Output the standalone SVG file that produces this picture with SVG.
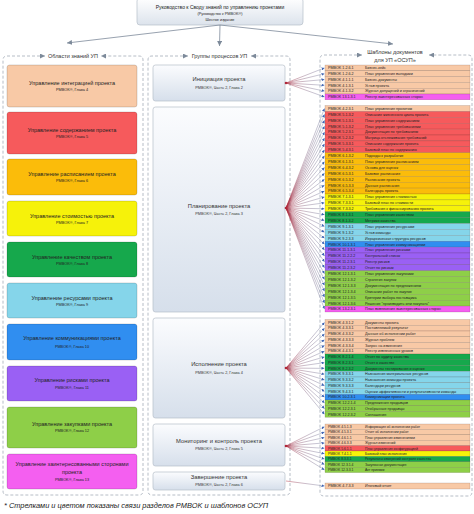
<svg xmlns="http://www.w3.org/2000/svg" width="474" height="514" viewBox="0 0 474 514">
<defs>
<linearGradient id="gTop" x1="0" y1="0" x2="0" y2="1"><stop offset="0" stop-color="#ffffff"/><stop offset="1" stop-color="#dce3ec"/></linearGradient>
<linearGradient id="gMid" x1="0" y1="0" x2="0" y2="1"><stop offset="0" stop-color="#fbfcfe"/><stop offset="1" stop-color="#d6dfeb"/></linearGradient>
<linearGradient id="gLn" gradientUnits="userSpaceOnUse" x1="286" y1="0" x2="325" y2="0"><stop offset="0" stop-color="#b0283a"/><stop offset="0.5" stop-color="#8a6a86"/><stop offset="1" stop-color="#7c8cad"/></linearGradient>
<marker id="ah" markerUnits="userSpaceOnUse" markerWidth="5" markerHeight="5" viewBox="0 0 5 5" refX="5" refY="2.5" orient="auto-start-reverse"><path d="M0,0L5,2.5L0,5z" fill="#7d8a9a"/></marker>
<marker id="at" markerUnits="userSpaceOnUse" markerWidth="3" markerHeight="3" viewBox="0 0 3 3" refX="3" refY="1.5" orient="auto"><path d="M0,0L3,1.5L0,3z" fill="#3d64b4"/></marker>
</defs>
<style>
text{font-family:"Liberation Sans",Arial,sans-serif;fill:#222}
.hd{font-size:5.5px;text-anchor:middle;fill:#333}
.kt{font-size:5.5px;text-anchor:middle}
.ks{font-size:3.8px;text-anchor:middle}
.mt{font-size:5.8px;text-anchor:middle;fill:#333}
.ms{font-size:3.8px;text-anchor:middle;fill:#333}
.kb rect{stroke:rgba(0,0,0,0.25);stroke-width:0.6}
.mb rect{fill:url(#gMid);stroke:#b6bec9;stroke-width:0.7}
.cont{fill:none;stroke:#a3acb8;stroke-width:0.8;stroke-dasharray:3 2}
.rw rect{stroke:rgba(60,40,30,0.35);stroke-width:0.4}
.rw text{font-size:3.7px}
.g4 text{font-size:3.4px}
.c1{fill:#f8c9a6}.c2{fill:#f65a5c}.c3{fill:#fbbc0a}.c4{fill:#f6f20a}.c5{fill:#16a84c}
.c6{fill:#85d5ea}.c7{fill:#308ef0}.c8{fill:#9a60f4}.c9{fill:#8ecf48}.c10{fill:#f45ff0}
.cn line{stroke:url(#gLn);stroke-width:0.45;marker-end:url(#at)}
.top line{stroke:#7d8a9a;stroke-width:0.8;marker-end:url(#ah)}
</style>

<!-- top box -->
<g id="guide">
<rect x="137" y="-2" width="166" height="27" rx="3" fill="url(#gTop)" stroke="#b6bec9" stroke-width="0.7"/>
<text x="220" y="8.5" style="font-size:5px;text-anchor:middle">Руководство к Своду знаний по управлению проектами</text>
<text x="220" y="15.4" class="ks">(Руководство к PMBOK®)</text>
<text x="220" y="20.8" class="ks">Шестое издание</text>
</g>

<!-- containers -->
<g id="col-areas">
<path class="cont" d="M45,56H7Q3,56 3,60V491Q3,495 7,495H139Q143,495 143,491V60Q143,56 139,56H101" marker-start="url(#ah)" marker-end="url(#ah)"/>
<text class="hd" x="73" y="58.2">Области знаний УП</text>
</g>
<g id="col-groups">
<path class="cont" d="M188,56H152Q148,56 148,60V491Q148,495 152,495H286Q290,495 290,491V60Q290,56 286,56H251" marker-start="url(#ah)" marker-end="url(#ah)"/>
<text class="hd" x="219.5" y="58.2">Группы процессов УП</text>
</g>
<g id="col-templates">
<path class="cont" d="M362,55H324Q320,55 320,59V492Q320,496 324,496H468Q472,496 472,492V59Q472,55 468,55H429" marker-start="url(#ah)" marker-end="url(#ah)"/>
<text class="hd" x="395" y="53.8">Шаблоны документов</text>
<text class="hd" x="395" y="61.5">для УП «ОСУП»</text>
</g>

<!-- knowledge areas -->
<g class="kb">
<g id="ka4"><rect class="c1" x="7" y="65" width="130" height="42" rx="2.5"/><text class="kt" x="72" y="85">Управление интеграцией проекта</text><text class="ks" x="72" y="90.8">PMBOK®, Глава 4</text></g>
<g id="ka5"><rect class="c2" x="7" y="112" width="130" height="42" rx="2.5"/><text class="kt" x="72" y="131.5">Управление содержанием проекта</text><text class="ks" x="72" y="138.4">PMBOK®, Глава 5</text></g>
<g id="ka6"><rect class="c3" x="7" y="159" width="130" height="36" rx="2.5"/><text class="kt" x="72" y="176">Управление расписанием проекта</text><text class="ks" x="72" y="182.4">PMBOK®, Глава 6</text></g>
<g id="ka7"><rect class="c4" x="7" y="201" width="130" height="35" rx="2.5"/><text class="kt" x="72" y="218">Управление стоимостью проекта</text><text class="ks" x="72" y="224.4">PMBOK®, Глава 7</text></g>
<g id="ka8"><rect class="c5" x="7" y="242" width="130" height="35" rx="2.5"/><text class="kt" x="72" y="259">Управление качеством проекта</text><text class="ks" x="72" y="264.9">PMBOK®, Глава 8</text></g>
<g id="ka9"><rect class="c6" x="7" y="283" width="130" height="35" rx="2.5"/><text class="kt" x="72" y="300">Управление ресурсами проекта</text><text class="ks" x="72" y="306.4">PMBOK®, Глава 9</text></g>
<g id="ka10"><rect class="c7" x="7" y="324" width="130" height="36" rx="2.5"/><text class="kt" x="72" y="340">Управление коммуникациями проекта</text><text class="ks" x="72" y="347.9">PMBOK®, Глава 10</text></g>
<g id="ka11"><rect class="c8" x="7" y="366" width="130" height="35" rx="2.5"/><text class="kt" x="72" y="382">Управление рисками проекта</text><text class="ks" x="72" y="389.4">PMBOK®, Глава 11</text></g>
<g id="ka12"><rect class="c9" x="7" y="407" width="130" height="41" rx="2.5"/><text class="kt" x="72" y="426">Управление закупками проекта</text><text class="ks" x="72" y="432.4">PMBOK®, Глава 12</text></g>
<g id="ka13"><rect class="c10" x="7" y="454" width="130" height="35" rx="2.5"/><text class="kt" x="72" y="466">Управление заинтересованными сторонами</text><text class="kt" x="72" y="474">проекта</text><text class="ks" x="72" y="481.4">PMBOK®, Глава 13</text></g>
</g>

<!-- process groups -->
<g class="mb">
<g id="pg-init"><rect x="153" y="65" width="132" height="36" rx="2.5"/><text class="mt" x="219" y="81">Инициация проекта</text><text class="ms" x="219" y="89.4">PMBOK®, Часть 2, Глава 2</text></g>
<g id="pg-plan"><rect x="153" y="107" width="132" height="205" rx="2.5"/><text class="mt" x="219" y="208">Планирование проекта</text><text class="ms" x="219" y="215.4">PMBOK®, Часть 2, Глава 3</text></g>
<g id="pg-exec"><rect x="153" y="318" width="132" height="100" rx="2.5"/><text class="mt" x="219" y="366">Исполнение проекта</text><text class="ms" x="219" y="374.4">PMBOK®, Часть 2, Глава 4</text></g>
<g id="pg-mon"><rect x="153" y="424" width="132" height="42" rx="2.5"/><text class="mt" x="219" y="443">Мониторинг и контроль проекта</text><text class="ms" x="219" y="450.4">PMBOK®, Часть 2, Глава 5</text></g>
<g id="pg-close"><rect x="153" y="472" width="132" height="18" rx="2.5"/><text class="mt" x="219" y="478.5">Завершение проекта</text><text class="ms" x="219" y="485.6">PMBOK®, Часть 2, Глава 6</text></g>
</g>

<!-- templates -->
<g class="rw">
<g id="a1"><rect class="c1" x="325" y="65" width="145" height="5.8"/><text x="328" y="69.25">PMBOK 1.2.6.1</text><text x="365" y="69.25">Бизнес-кейс</text></g>
<g id="a2"><rect class="c1" x="325" y="70.8" width="145" height="5.8"/><text x="328" y="75.05">PMBOK 1.2.6.2</text><text x="365" y="75.05">План управления выгодами</text></g>
<g id="a3"><rect class="c1" x="325" y="76.6" width="145" height="5.8"/><text x="328" y="80.85">PMBOK 4.1.1.1</text><text x="365" y="80.85">Бизнес-документы</text></g>
<g id="a4"><rect class="c1" x="325" y="82.4" width="145" height="5.8"/><text x="328" y="86.65">PMBOK 4.1.3.1</text><text x="365" y="86.65">Устав проекта</text></g>
<g id="a5"><rect class="c1" x="325" y="88.2" width="145" height="5.8"/><text x="328" y="92.45">PMBOK 4.1.3.2</text><text x="365" y="92.45">Журнал допущений и ограничений</text></g>
<g id="a6"><rect class="c10" x="325" y="94" width="145" height="5.8"/><text x="328" y="98.25">PMBOK 13.1.3.1</text><text x="365" y="98.25">Реестр заинтересованных сторон</text></g>

<g id="b1"><rect class="c1" x="325" y="105.5" width="145" height="5.9"/><text x="328" y="109.8">PMBOK 4.2.3.1</text><text x="365" y="109.8">План управления проектом</text></g>
<g id="b2"><rect class="c2" x="325" y="111.4" width="145" height="5.9"/><text x="328" y="115.7">PMBOK 5.1.3.2</text><text x="365" y="115.7">Описание жизненного цикла проекта</text></g>
<g id="b3"><rect class="c2" x="325" y="117.3" width="145" height="5.9"/><text x="328" y="121.6">PMBOK 5.1.3.1</text><text x="365" y="121.6">План управления содержанием</text></g>
<g id="b4"><rect class="c2" x="325" y="123.2" width="145" height="5.9"/><text x="328" y="127.5">PMBOK 5.1.3.2</text><text x="365" y="127.5">План управления требованиями</text></g>
<g id="b5"><rect class="c2" x="325" y="129.1" width="145" height="5.9"/><text x="328" y="133.4">PMBOK 5.2.3.1</text><text x="365" y="133.4">Документация по требованиям</text></g>
<g id="b6"><rect class="c2" x="325" y="135" width="145" height="5.9"/><text x="328" y="139.3">PMBOK 5.2.3.2</text><text x="365" y="139.3">Матрица отслеживания требований</text></g>
<g id="b7"><rect class="c2" x="325" y="140.9" width="145" height="5.9"/><text x="328" y="145.2">PMBOK 5.3.3.1</text><text x="365" y="145.2">Описание содержания проекта</text></g>
<g id="b8"><rect class="c2" x="325" y="146.8" width="145" height="5.9"/><text x="328" y="151.1">PMBOK 5.4.3.1</text><text x="365" y="151.1">Базовый план по содержанию</text></g>
<g id="b9"><rect class="c3" x="325" y="152.7" width="145" height="5.9"/><text x="328" y="157">PMBOK 6.1.3.2</text><text x="365" y="157">Подходы к разработке</text></g>
<g id="b10"><rect class="c3" x="325" y="158.6" width="145" height="5.9"/><text x="328" y="162.9">PMBOK 6.1.3.1</text><text x="365" y="162.9">План управления расписанием</text></g>
<g id="b11"><rect class="c3" x="325" y="164.5" width="145" height="5.9"/><text x="328" y="168.8">PMBOK 6.4.3.2</text><text x="365" y="168.8">Основа для оценок</text></g>
<g id="b12"><rect class="c3" x="325" y="170.4" width="145" height="5.9"/><text x="328" y="174.7">PMBOK 6.5.3.1</text><text x="365" y="174.7">Базовое расписание</text></g>
<g id="b13"><rect class="c3" x="325" y="176.3" width="145" height="5.9"/><text x="328" y="180.6">PMBOK 6.5.3.2</text><text x="365" y="180.6">Расписание проекта</text></g>
<g id="b14"><rect class="c3" x="325" y="182.2" width="145" height="5.9"/><text x="328" y="186.5">PMBOK 6.5.3.3</text><text x="365" y="186.5">Данные расписания</text></g>
<g id="b15"><rect class="c3" x="325" y="188.1" width="145" height="5.9"/><text x="328" y="192.4">PMBOK 6.5.3.4</text><text x="365" y="192.4">Календарь проекта</text></g>
<g id="b16"><rect class="c4" x="325" y="194" width="145" height="5.9"/><text x="328" y="198.3">PMBOK 7.1.3.1</text><text x="365" y="198.3">План управления стоимостью</text></g>
<g id="b17"><rect class="c4" x="325" y="199.9" width="145" height="5.9"/><text x="328" y="204.2">PMBOK 7.3.3.1</text><text x="365" y="204.2">Базовый план по стоимости</text></g>
<g id="b18"><rect class="c4" x="325" y="205.8" width="145" height="5.9"/><text x="328" y="210.1">PMBOK 7.3.3.2</text><text x="365" y="210.1">Требования к финансированию проекта</text></g>
<g id="b19"><rect class="c5" x="325" y="211.7" width="145" height="5.9"/><text x="328" y="216">PMBOK 8.1.3.1</text><text x="365" y="216">План управления качеством</text></g>
<g id="b20"><rect class="c5" x="325" y="217.6" width="145" height="5.9"/><text x="328" y="221.9">PMBOK 8.1.3.2</text><text x="365" y="221.9">Метрики качества</text></g>
<g id="b21"><rect class="c6" x="325" y="223.5" width="145" height="5.9"/><text x="328" y="227.8">PMBOK 9.1.3.1</text><text x="365" y="227.8">План управления ресурсами</text></g>
<g id="b22"><rect class="c6" x="325" y="229.4" width="145" height="5.9"/><text x="328" y="233.7">PMBOK 9.1.3.2</text><text x="365" y="233.7">Устав команды</text></g>
<g id="b23"><rect class="c6" x="325" y="235.3" width="145" height="5.9"/><text x="328" y="239.6">PMBOK 9.2.3.3</text><text x="365" y="239.6">Иерархическая структура ресурсов</text></g>
<g id="b24"><rect class="c7" x="325" y="241.2" width="145" height="5.9"/><text x="328" y="245.5">PMBOK 10.1.3.1</text><text x="365" y="245.5">План управления коммуникациями</text></g>
<g id="b25"><rect class="c8" x="325" y="247.1" width="145" height="5.9"/><text x="328" y="251.4">PMBOK 11.1.3.1</text><text x="365" y="251.4">План управления рисками</text></g>
<g id="b26"><rect class="c8" x="325" y="253" width="145" height="5.9"/><text x="328" y="257.3">PMBOK 11.2.2.2</text><text x="365" y="257.3">Контрольный список</text></g>
<g id="b27"><rect class="c8" x="325" y="258.9" width="145" height="5.9"/><text x="328" y="263.2">PMBOK 11.2.3.1</text><text x="365" y="263.2">Реестр рисков</text></g>
<g id="b28"><rect class="c8" x="325" y="264.8" width="145" height="5.9"/><text x="328" y="269.1">PMBOK 11.2.3.2</text><text x="365" y="269.1">Отчет по рискам</text></g>
<g id="b29"><rect class="c9" x="325" y="270.7" width="145" height="5.9"/><text x="328" y="275">PMBOK 12.1.3.1</text><text x="365" y="275">План управления закупками</text></g>
<g id="b30"><rect class="c9" x="325" y="276.6" width="145" height="5.9"/><text x="328" y="280.9">PMBOK 12.1.3.2</text><text x="365" y="280.9">Стратегия закупок</text></g>
<g id="b31"><rect class="c9" x="325" y="282.5" width="145" height="5.9"/><text x="328" y="286.8">PMBOK 12.1.3.3</text><text x="365" y="286.8">Документация по предложениям</text></g>
<g id="b32"><rect class="c9" x="325" y="288.4" width="145" height="5.9"/><text x="328" y="292.7">PMBOK 12.1.3.4</text><text x="365" y="292.7">Описание работ по закупке</text></g>
<g id="b33"><rect class="c9" x="325" y="294.3" width="145" height="5.9"/><text x="328" y="298.6">PMBOK 12.1.3.5</text><text x="365" y="298.6">Критерии выбора поставщика</text></g>
<g id="b34"><rect class="c9" x="325" y="300.2" width="145" height="5.9"/><text x="328" y="304.5">PMBOK 12.1.3.6</text><text x="365" y="304.5">Решение "производить или покупать"</text></g>
<g id="b35"><rect class="c10" x="325" y="306.1" width="145" height="5.9"/><text x="328" y="310.4">PMBOK 13.2.3.1</text><text x="365" y="310.4">План вовлечения заинтересованных сторон</text></g>

<g id="c1r"><rect class="c1" x="325" y="319.5" width="145" height="5.75"/><text x="328" y="323.7">PMBOK 4.3.1.2</text><text x="365" y="323.7">Документы проекта</text></g>
<g id="c2r"><rect class="c1" x="325" y="325.25" width="145" height="5.75"/><text x="328" y="329.45">PMBOK 4.3.3.1</text><text x="365" y="329.45">Поставляемый результат</text></g>
<g id="c3r"><rect class="c1" x="325" y="331" width="145" height="5.75"/><text x="328" y="335.2">PMBOK 4.3.3.2</text><text x="365" y="335.2">Данные об исполнении работ</text></g>
<g id="c4r"><rect class="c1" x="325" y="336.75" width="145" height="5.75"/><text x="328" y="340.95">PMBOK 4.3.3.3</text><text x="365" y="340.95">Журнал проблем</text></g>
<g id="c5r"><rect class="c1" x="325" y="342.5" width="145" height="5.75"/><text x="328" y="346.7">PMBOK 4.3.3.4</text><text x="365" y="346.7">Запрос на изменения</text></g>
<g id="c6r"><rect class="c1" x="325" y="348.25" width="145" height="5.75"/><text x="328" y="352.45">PMBOK 4.4.3.1</text><text x="365" y="352.45">Реестр извлеченных уроков</text></g>
<g id="c7r"><rect class="c5" x="325" y="354" width="145" height="5.75"/><text x="328" y="358.2">PMBOK 8.2.1.4</text><text x="365" y="358.2">Отчет по аудиту качества</text></g>
<g id="c8r"><rect class="c5" x="325" y="359.75" width="145" height="5.75"/><text x="328" y="363.95">PMBOK 8.2.3.1</text><text x="365" y="363.95">Отчет о качестве</text></g>
<g id="c9r"><rect class="c5" x="325" y="365.5" width="145" height="5.75"/><text x="328" y="369.7">PMBOK 8.2.3.2</text><text x="365" y="369.7">Документы тестирования и оценки</text></g>
<g id="c10r"><rect class="c6" x="325" y="371.25" width="145" height="5.75"/><text x="328" y="375.45">PMBOK 9.3.3.1</text><text x="365" y="375.45">Назначения материальных ресурсов</text></g>
<g id="c11r"><rect class="c6" x="325" y="377" width="145" height="5.75"/><text x="328" y="381.2">PMBOK 9.3.3.2</text><text x="365" y="381.2">Назначения команды проекта</text></g>
<g id="c12r"><rect class="c6" x="325" y="382.75" width="145" height="5.75"/><text x="328" y="386.95">PMBOK 9.3.3.3</text><text x="365" y="386.95">Календари ресурсов</text></g>
<g id="c13r"><rect class="c6" x="325" y="388.5" width="145" height="5.75"/><text x="328" y="392.7">PMBOK 9.4.3.1</text><text x="365" y="392.7">Оценки эффективности и результативности команды</text></g>
<g id="c14r"><rect class="c7" x="325" y="394.25" width="145" height="5.75"/><text x="328" y="398.45">PMBOK 10.2.3.1</text><text x="365" y="398.45">Коммуникации проекта</text></g>
<g id="c15r"><rect class="c9" x="325" y="400" width="145" height="5.75"/><text x="328" y="404.2">PMBOK 12.2.1.4</text><text x="365" y="404.2">Предложения продавцов</text></g>
<g id="c16r"><rect class="c9" x="325" y="405.75" width="145" height="5.75"/><text x="328" y="409.95">PMBOK 12.2.3.1</text><text x="365" y="409.95">Отобранные продавцы</text></g>
<g id="c17r"><rect class="c9" x="325" y="411.5" width="145" height="5.75"/><text x="328" y="415.7">PMBOK 12.2.3.2</text><text x="365" y="415.7">Соглашения</text></g>

<g class="g4">
<g id="d1"><rect class="c1" x="325" y="424" width="145" height="5.4"/><text x="328" y="428">PMBOK 4.5.1.3</text><text x="365" y="428">Информация об исполнении работ</text></g>
<g id="d2"><rect class="c1" x="325" y="429.4" width="145" height="5.4"/><text x="328" y="433.4">PMBOK 4.5.3.1</text><text x="365" y="433.4">Отчет об исполнении работ</text></g>
<g id="d3"><rect class="c1" x="325" y="434.8" width="145" height="5.4"/><text x="328" y="438.8">PMBOK 4.6.1.1</text><text x="365" y="438.8">План управления изменениями</text></g>
<g id="d4"><rect class="c1" x="325" y="440.2" width="145" height="5.4"/><text x="328" y="444.2">PMBOK 4.6.3.3</text><text x="365" y="444.2">Журнал изменений</text></g>
<g id="d5"><rect class="c2" x="325" y="445.6" width="145" height="5.4"/><text x="328" y="449.6">PMBOK 5.6.1.1</text><text x="365" y="449.6">План управления конфигурацией</text></g>
<g id="d6"><rect class="c4" x="325" y="451" width="145" height="5.4"/><text x="328" y="455">PMBOK 7.4.1.1</text><text x="365" y="455">Базовый план исполнения</text></g>
<g id="d7"><rect class="c5" x="325" y="456.4" width="145" height="5.4"/><text x="328" y="460.4">PMBOK 8.3.3.1</text><text x="365" y="460.4">Результаты измерений контроля качества</text></g>
<g id="d8"><rect class="c9" x="325" y="461.8" width="145" height="5.4"/><text x="328" y="465.8">PMBOK 12.3.1.4</text><text x="365" y="465.8">Закупочная документация</text></g>
<g id="d9"><rect class="c9" x="325" y="467.2" width="145" height="5.4"/><text x="328" y="471.2">PMBOK 12.3.3.1</text><text x="365" y="471.2">Акт приемки</text></g>
</g>

<g id="e1"><rect class="c1" x="325" y="483" width="145" height="6"/><text x="328" y="487.3">PMBOK 4.7.3.3</text><text x="365" y="487.3">Итоговый отчет</text></g>
</g>

<!-- connectors -->
<g class="top" id="top-arrows">
<line x1="220" y1="25" x2="67" y2="43"/>
<line x1="220" y1="25" x2="219.5" y2="46"/>
<line x1="220" y1="25" x2="393" y2="44"/>
</g>
<g class="cn" id="connectors">
<line x1="286" y1="83" x2="324.5" y2="67.9"/><line x1="286" y1="83" x2="324.5" y2="73.7"/><line x1="286" y1="83" x2="324.5" y2="79.5"/><line x1="286" y1="83" x2="324.5" y2="85.3"/><line x1="286" y1="83" x2="324.5" y2="91.1"/><line x1="286" y1="83" x2="324.5" y2="96.9"/>
<line x1="286" y1="208" x2="324.5" y2="108.45"/><line x1="286" y1="208" x2="324.5" y2="114.35"/><line x1="286" y1="208" x2="324.5" y2="120.25"/><line x1="286" y1="208" x2="324.5" y2="126.15"/><line x1="286" y1="208" x2="324.5" y2="132.05"/><line x1="286" y1="208" x2="324.5" y2="137.95"/><line x1="286" y1="208" x2="324.5" y2="143.85"/><line x1="286" y1="208" x2="324.5" y2="149.75"/><line x1="286" y1="208" x2="324.5" y2="155.65"/><line x1="286" y1="208" x2="324.5" y2="161.55"/><line x1="286" y1="208" x2="324.5" y2="167.45"/><line x1="286" y1="208" x2="324.5" y2="173.35"/><line x1="286" y1="208" x2="324.5" y2="179.25"/><line x1="286" y1="208" x2="324.5" y2="185.15"/><line x1="286" y1="208" x2="324.5" y2="191.05"/><line x1="286" y1="208" x2="324.5" y2="196.95"/><line x1="286" y1="208" x2="324.5" y2="202.85"/><line x1="286" y1="208" x2="324.5" y2="208.75"/><line x1="286" y1="208" x2="324.5" y2="214.65"/><line x1="286" y1="208" x2="324.5" y2="220.55"/><line x1="286" y1="208" x2="324.5" y2="226.45"/><line x1="286" y1="208" x2="324.5" y2="232.35"/><line x1="286" y1="208" x2="324.5" y2="238.25"/><line x1="286" y1="208" x2="324.5" y2="244.15"/><line x1="286" y1="208" x2="324.5" y2="250.05"/><line x1="286" y1="208" x2="324.5" y2="255.95"/><line x1="286" y1="208" x2="324.5" y2="261.85"/><line x1="286" y1="208" x2="324.5" y2="267.75"/><line x1="286" y1="208" x2="324.5" y2="273.65"/><line x1="286" y1="208" x2="324.5" y2="279.55"/><line x1="286" y1="208" x2="324.5" y2="285.45"/><line x1="286" y1="208" x2="324.5" y2="291.35"/><line x1="286" y1="208" x2="324.5" y2="297.25"/><line x1="286" y1="208" x2="324.5" y2="303.15"/><line x1="286" y1="208" x2="324.5" y2="309.05"/>
<line x1="286" y1="368" x2="324.5" y2="322.38"/><line x1="286" y1="368" x2="324.5" y2="328.13"/><line x1="286" y1="368" x2="324.5" y2="333.88"/><line x1="286" y1="368" x2="324.5" y2="339.63"/><line x1="286" y1="368" x2="324.5" y2="345.38"/><line x1="286" y1="368" x2="324.5" y2="351.13"/><line x1="286" y1="368" x2="324.5" y2="356.88"/><line x1="286" y1="368" x2="324.5" y2="362.63"/><line x1="286" y1="368" x2="324.5" y2="368.38"/><line x1="286" y1="368" x2="324.5" y2="374.13"/><line x1="286" y1="368" x2="324.5" y2="379.88"/><line x1="286" y1="368" x2="324.5" y2="385.63"/><line x1="286" y1="368" x2="324.5" y2="391.38"/><line x1="286" y1="368" x2="324.5" y2="397.13"/><line x1="286" y1="368" x2="324.5" y2="402.88"/><line x1="286" y1="368" x2="324.5" y2="408.63"/><line x1="286" y1="368" x2="324.5" y2="414.38"/>
<line x1="286" y1="446" x2="324.5" y2="426.7"/><line x1="286" y1="446" x2="324.5" y2="432.1"/><line x1="286" y1="446" x2="324.5" y2="437.5"/><line x1="286" y1="446" x2="324.5" y2="442.9"/><line x1="286" y1="446" x2="324.5" y2="448.3"/><line x1="286" y1="446" x2="324.5" y2="453.7"/><line x1="286" y1="446" x2="324.5" y2="459.1"/><line x1="286" y1="446" x2="324.5" y2="464.5"/><line x1="286" y1="446" x2="324.5" y2="469.9"/>
<line x1="286" y1="481" x2="324.5" y2="486"/>
<circle cx="286" cy="83" r="1.3" fill="#b0283a"/><circle cx="286" cy="208" r="1.3" fill="#b0283a"/><circle cx="286" cy="368" r="1.3" fill="#b0283a"/><circle cx="286" cy="446" r="1.3" fill="#b0283a"/>
</g>

<text x="4" y="507.5" style="font-size:7.4px;font-style:italic">* Стрелками и цветом показаны связи разделов PMBOK и шаблонов ОСУП</text>
</svg>
